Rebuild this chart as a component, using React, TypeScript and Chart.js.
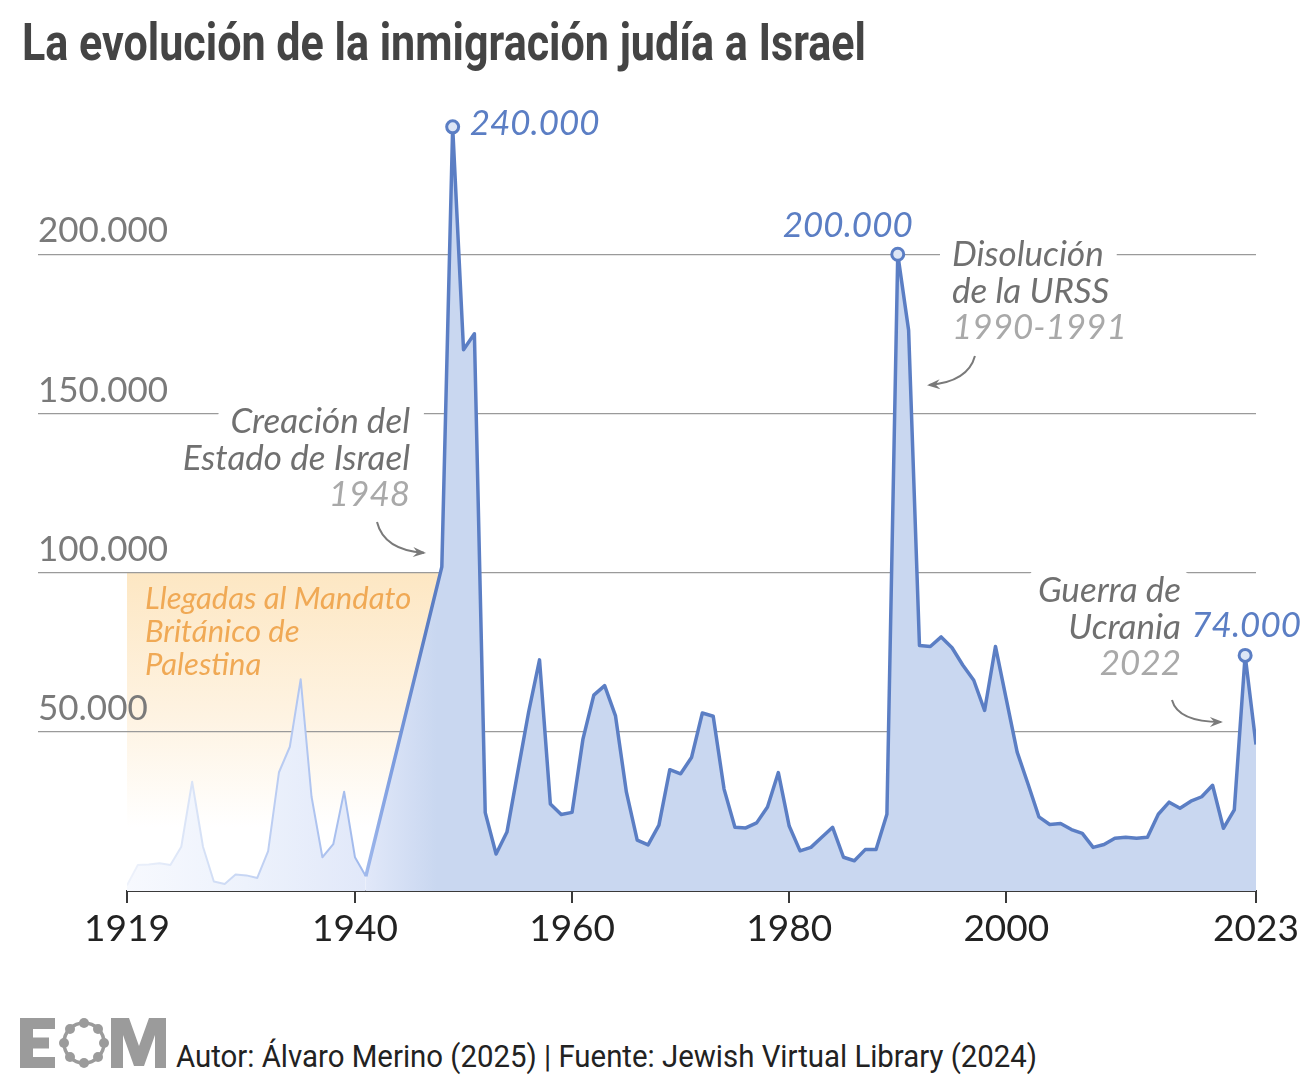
import React, { useEffect, useLayoutEffect, useRef } from 'react';
import { Chart, registerables } from 'chart.js';

Chart.register(...registerables);

// ---------- data ----------
const years = [
  1919, 1920, 1921, 1922, 1923, 1924, 1925, 1926, 1927, 1928, 1929, 1930, 1931, 1932, 1933, 1934, 1935, 1936, 1937, 1938, 1939, 1940,
  1941, 1942, 1943, 1944, 1945, 1946, 1947, 1948, 1949, 1950, 1951, 1952, 1953, 1954, 1955, 1956, 1957, 1958, 1959, 1960,
  1961, 1962, 1963, 1964, 1965, 1966, 1967, 1968, 1969, 1970, 1971, 1972, 1973, 1974, 1975, 1976, 1977, 1978, 1979, 1980,
  1981, 1982, 1983, 1984, 1985, 1986, 1987, 1988, 1989, 1990, 1991, 1992, 1993, 1994, 1995, 1996, 1997, 1998, 1999, 2000,
  2001, 2002, 2003, 2004, 2005, 2006, 2007, 2008, 2009, 2010, 2011, 2012, 2013, 2014, 2015, 2016, 2017, 2018, 2019, 2020,
  2021, 2022, 2023,
];

const immigrants: (number | null)[] = [
  1800, 8200, 8300, 8700, 8200, 13900, 34300, 13900, 3000, 2200, 5200, 4900, 4100, 12500, 37300, 45300, 66500, 29600, 10600, 14700, 31200, 10600,
  4600, null, null, null, null, null, null, 101800, 240000, 170000, 175000, 24600, 11600, 18500, 37500, 56300, 72600, 27300, 24000, 24700,
  47700, 61500, 64500, 55000, 31100, 16000, 14500, 20700, 38100, 36800, 41900, 55900, 54900, 32000, 20000, 19800, 21400, 26400, 37200, 20400,
  12600, 13700, 16900, 20000, 10600, 9500, 13000, 13000, 24100, 200000, 176100, 77100, 76800, 79800, 76400, 70900, 66200, 56700, 76800, 60200,
  43600, 33600, 23300, 20900, 21200, 19300, 18100, 13700, 14600, 16600, 16900, 16600, 16900, 24100, 27900, 26000, 28200, 29600, 33200, 19700,
  25500, 74000, 46000,
];

const xTickYears = [1919, 1940, 1960, 1980, 2000, 2023];
const yTickValues = [50000, 100000, 150000, 200000];
const highlightYears = [1949, 1990, 2022];
const highlightLabels = ['240.000', '200.000', '74.000'];

const mandateStart = 1919;
const mandateEnd = 1948;
const mandateTop = 100000;
const mandateLines = ['Llegadas al Mandato', 'Británico de', 'Palestina'];

const israelLines = ['Creación del', 'Estado de Israel'];
const israelYear = '1948';
const urssLines = ['Disolución', 'de la URSS'];
const urssYear = '1990-1991';
const ukraineLines = ['Guerra de', 'Ucrania'];
const ukraineYear = '2022';

// ---------- styles ----------
const DARK = '#5b7ec4';
const FONT = 'Lato';

function fmt(v: number) {
  return String(v).replace(/\B(?=(\d{3})+(?!\d))/g, '.');
}

function hGradient(chart: any, stops: [number, string][]) {
  const { ctx, chartArea, scales } = chart;
  const g = ctx.createLinearGradient(chartArea.left, 0, chartArea.right, 0);
  const w = chartArea.right - chartArea.left;
  stops.forEach(([yr, c]) => {
    const p = (scales.x.getPixelForValue(yr) - chartArea.left) / w;
    g.addColorStop(Math.min(1, Math.max(0, p)), c);
  });
  return g;
}

const lineStops: [number, string][] = [
  [1919, '#eef2fb'], [1926, '#d6e1f6'], [1934, '#b6c9f1'], [1941, '#a0b9ec'], [1943.5, '#7d9de0'], [1946.5, DARK], [2023, DARK],
];
const fillStops: [number, string][] = [
  [1919, '#f7f9fe'], [1930, '#edf2fc'], [1941, '#e1e8f9'], [1947.5, '#c9d7f0'], [2023, '#c9d7f0'],
];

function drawHaloText(ctx: CanvasRenderingContext2D, lines: { t: string; c: string }[], x: number, y: number, align: CanvasTextAlign, lh: number) {
  ctx.textAlign = align;
  ctx.textBaseline = 'middle';
  ctx.font = `italic 400 35px ${FONT}`;
  ctx.lineJoin = 'round';
  ctx.strokeStyle = '#ffffff';
  ctx.lineWidth = 30;
  lines.forEach((l, i) => ctx.strokeText(l.t, x, y + i * lh));
  lines.forEach((l, i) => {
    ctx.fillStyle = l.c;
    ctx.fillText(l.t, x, y + i * lh);
  });
}

function drawArrow(ctx: CanvasRenderingContext2D, x0: number, y0: number, cx: number, cy: number, x1: number, y1: number) {
  ctx.strokeStyle = '#7a7a7a';
  ctx.fillStyle = '#7a7a7a';
  ctx.lineWidth = 2;
  ctx.beginPath();
  ctx.moveTo(x0, y0);
  ctx.quadraticCurveTo(cx, cy, x1, y1);
  ctx.stroke();
  const ang = Math.atan2(y1 - cy, x1 - cx);
  const L = 11, W = 5;
  ctx.beginPath();
  ctx.moveTo(x1 + Math.cos(ang) * 2, y1 + Math.sin(ang) * 2);
  ctx.lineTo(x1 - Math.cos(ang) * L - Math.sin(ang) * W, y1 - Math.sin(ang) * L + Math.cos(ang) * W);
  ctx.lineTo(x1 - Math.cos(ang) * L * 0.6, y1 - Math.sin(ang) * L * 0.6);
  ctx.lineTo(x1 - Math.cos(ang) * L + Math.sin(ang) * W, y1 - Math.sin(ang) * L - Math.cos(ang) * W);
  ctx.closePath();
  ctx.fill();
}

const bandPlugin = {
  id: 'mandateBand',
  beforeDraw(chart: any) {
    const { ctx, scales: { x, y } } = chart;
    const left = x.getPixelForValue(mandateStart);
    const right = x.getPixelForValue(mandateEnd);
    const top = y.getPixelForValue(mandateTop);
    const bottom = y.getPixelForValue(0);
    const g = ctx.createLinearGradient(0, top, 0, bottom);
    g.addColorStop(0, '#fde7c3');
    g.addColorStop(0.45, '#fef3e2');
    g.addColorStop(0.8, '#ffffff');
    ctx.save();
    ctx.fillStyle = g;
    ctx.fillRect(left, top, right - left, bottom - top);
    ctx.restore();
  },
};

const annotPlugin = {
  id: 'annots',
  afterDatasetsDraw(chart: any) {
    const { ctx, scales: { x, y } } = chart;
    const px = (yr: number) => x.getPixelForValue(yr);
    const py = (v: number) => y.getPixelForValue(v);
    ctx.save();

    // orange mandate text
    ctx.font = `italic 400 31px ${FONT}`;
    ctx.fillStyle = '#f0a955';
    ctx.textAlign = 'left';
    ctx.textBaseline = 'middle';
    mandateLines.forEach((t, i) => ctx.fillText(t, px(1920.66), py(91700) + i * 33));

    // annotations
    const lh = 36.5;
    drawHaloText(ctx, [...israelLines.map(t => ({ t, c: '#707070' })), { t: israelYear, c: '#a9a9a9' }], px(1945.07), py(147300), 'right', lh);
    drawArrow(ctx, px(1942.03), py(115900), px(1942.67), py(107100), px(1946.36), py(106200));

    drawHaloText(ctx, [...urssLines.map(t => ({ t, c: '#707070' })), { t: urssYear, c: '#a9a9a9' }], px(1995.0), py(199750), 'left', lh);
    drawArrow(ctx, px(1997.11), py(168000), px(1996.47), py(159900), px(1992.88), py(158900));

    drawHaloText(ctx, [...ukraineLines.map(t => ({ t, c: '#707070' })), { t: ukraineYear, c: '#a9a9a9' }], px(2016.09), py(94200), 'right', lh);
    drawArrow(ctx, px(2015.26), py(60000), px(2015.81), py(53100), px(2019.77), py(53100));

    // peak value labels
    ctx.font = `italic 400 35px ${FONT}`;
    ctx.fillStyle = DARK;
    ctx.textBaseline = 'middle';
    highlightYears.forEach((yr, i) => {
      const idx = years.indexOf(yr);
      const X = px(yr);
      const Y = py(immigrants[idx] as number);
      if (i === 0) { ctx.textAlign = 'left'; ctx.fillText(highlightLabels[i], X + 17, Y - 3); }
      else if (i === 1) { ctx.textAlign = 'right'; ctx.fillText(highlightLabels[i], X + 15, Y - 28); }
      else { ctx.textAlign = 'center'; ctx.fillText(highlightLabels[i], X + 1, Y - 30); }
    });
    ctx.restore();
  },
};

export default function App() {
  const canvasRef = useRef<HTMLCanvasElement>(null);
  const titleRef = useRef<HTMLSpanElement>(null);
  const footRef = useRef<HTMLSpanElement>(null);

  useLayoutEffect(() => {
    const fit = () => {
      const pairs: [HTMLSpanElement | null, number][] = [[titleRef.current, 844], [footRef.current, 861]];
      pairs.forEach(([el, target]) => {
        if (!el) return;
        el.style.transform = 'none';
        const w = el.getBoundingClientRect().width;
        if (w > 0) el.style.transform = `scaleX(${target / w})`;
      });
    };
    fit();
    (document as any).fonts?.ready?.then(fit);
  }, []);

  useEffect(() => {
    if (!canvasRef.current) return;
    const data = years.map((yr, i) => ({ x: yr, y: immigrants[i] }));
    const chart = new Chart(canvasRef.current, {
      type: 'line',
      data: {
        datasets: [
          {
            data: data as any,
            spanGaps: true,
            fill: 'origin',
            tension: 0,
            borderColor: (c: any) => (c.chart.chartArea ? hGradient(c.chart, lineStops) : DARK),
            backgroundColor: (c: any) => (c.chart.chartArea ? hGradient(c.chart, fillStops) : '#c9d7f0'),
            borderWidth: 3.5,
            borderJoinStyle: 'round',
            segment: {
              borderWidth: (s: any) => (s.p0.parsed.x < 1941 ? 2 : 3.5),
            },
            pointRadius: (c: any) => (c.raw && highlightYears.includes(c.raw.x) ? 6 : 0),
            pointHoverRadius: 0,
            pointBackgroundColor: '#dde6f6',
            pointBorderColor: DARK,
            pointBorderWidth: 3,
          } as any,
        ],
      },
      options: {
        responsive: false,
        animation: false,
        devicePixelRatio: 1,
        layout: { padding: { left: 38, right: 54, top: 95, bottom: 0 } },
        plugins: { legend: { display: false }, tooltip: { enabled: false }, title: { display: false } },
        scales: {
          x: {
            type: 'linear',
            min: 1919,
            max: 2023,
            afterBuildTicks: (s: any) => { s.ticks = xTickYears.map(v => ({ value: v })); },
            afterFit: (s: any) => { s.height = 109; },
            grid: { display: true, drawOnChartArea: false, drawTicks: true, tickLength: 12, color: '#3a3a3a', lineWidth: 2 },
            border: { display: true, color: '#3a3a3a', width: 2 },
            ticks: {
              autoSkip: false,
              maxRotation: 0,
              padding: 4,
              color: '#222222',
              font: { family: FONT, size: 37 },
              callback: (v: any) => String(v),
            },
          },
          y: {
            type: 'linear',
            min: 0,
            max: 250000,
            afterBuildTicks: (s: any) => { s.ticks = [0, ...yTickValues, 250000].map(v => ({ value: v })); },
            afterFit: (s: any) => { s.width = 89; },
            border: { display: false },
            grid: {
              drawTicks: true,
              tickLength: 89,
              lineWidth: 1.2,
              color: (c: any) => (c.tick && yTickValues.includes(c.tick.value) ? '#9a9a9a' : 'rgba(0,0,0,0)'),
            },
            ticks: {
              mirror: true,
              crossAlign: 'near',
              padding: -89,
              labelOffset: -23,
              color: '#7a7a7a',
              font: { family: FONT, size: 35 },
              callback: (v: any) => (yTickValues.includes(v) ? fmt(v) : ''),
            },
          },
        },
      } as any,
      plugins: [bandPlugin, annotPlugin],
    });
    return () => chart.destroy();
  }, []);

  return (
    <div style={{ position: 'absolute', left: 0, top: 0, width: 1310, height: 1085, background: '#ffffff', overflow: 'hidden' }}>
      <canvas ref={canvasRef} width={1310} height={1000} style={{ position: 'absolute', left: 0, top: 0, width: 1310, height: 1000 }} />
      <div style={{ position: 'absolute', left: 22, top: 17, whiteSpace: 'nowrap', lineHeight: '52px' }}>
        <span ref={titleRef} style={{ display: 'inline-block', transformOrigin: '0 0', fontFamily: 'Roboto, sans-serif', fontWeight: 700, fontSize: 52, color: '#444444' }}>
          La evolución de la inmigración judía a Israel
        </span>
      </div>
      <svg style={{ position: 'absolute', left: 20, top: 1018 }} width={146} height={50} viewBox="0 0 146 50">
        <g fill="#9b9b9b">
          <rect x={0} y={0} width={13} height={50} />
          <rect x={0} y={0} width={35} height={11} />
          <rect x={0} y={19.5} width={29} height={11} />
          <rect x={0} y={39} width={35} height={11} />
          <circle cx={64} cy={25} r={20} fill="none" stroke="#9b9b9b" strokeWidth={3.5} />
          <circle cx={84} cy={25} r={5} />
          <circle cx={78} cy={39} r={5} />
          <circle cx={64} cy={45} r={5} />
          <circle cx={50} cy={39} r={5} />
          <circle cx={44} cy={25} r={5} />
          <circle cx={50} cy={11} r={5} />
          <circle cx={64} cy={5} r={5} />
          <circle cx={78} cy={11} r={5} />
          <path d="M91 50 V0 H109 L119 28 L129 0 H146 V50 H135 V17 L124 48 H114 L103 17 V50 Z" />
        </g>
      </svg>
      <div style={{ position: 'absolute', left: 176, top: 1041, whiteSpace: 'nowrap', lineHeight: '32px' }}>
        <span ref={footRef} style={{ display: 'inline-block', transformOrigin: '0 0', fontFamily: 'Roboto, sans-serif', fontWeight: 400, fontSize: 31, color: '#222222' }}>
          Autor: Álvaro Merino (2025) | Fuente: Jewish Virtual Library (2024)
        </span>
      </div>
    </div>
  );
}
